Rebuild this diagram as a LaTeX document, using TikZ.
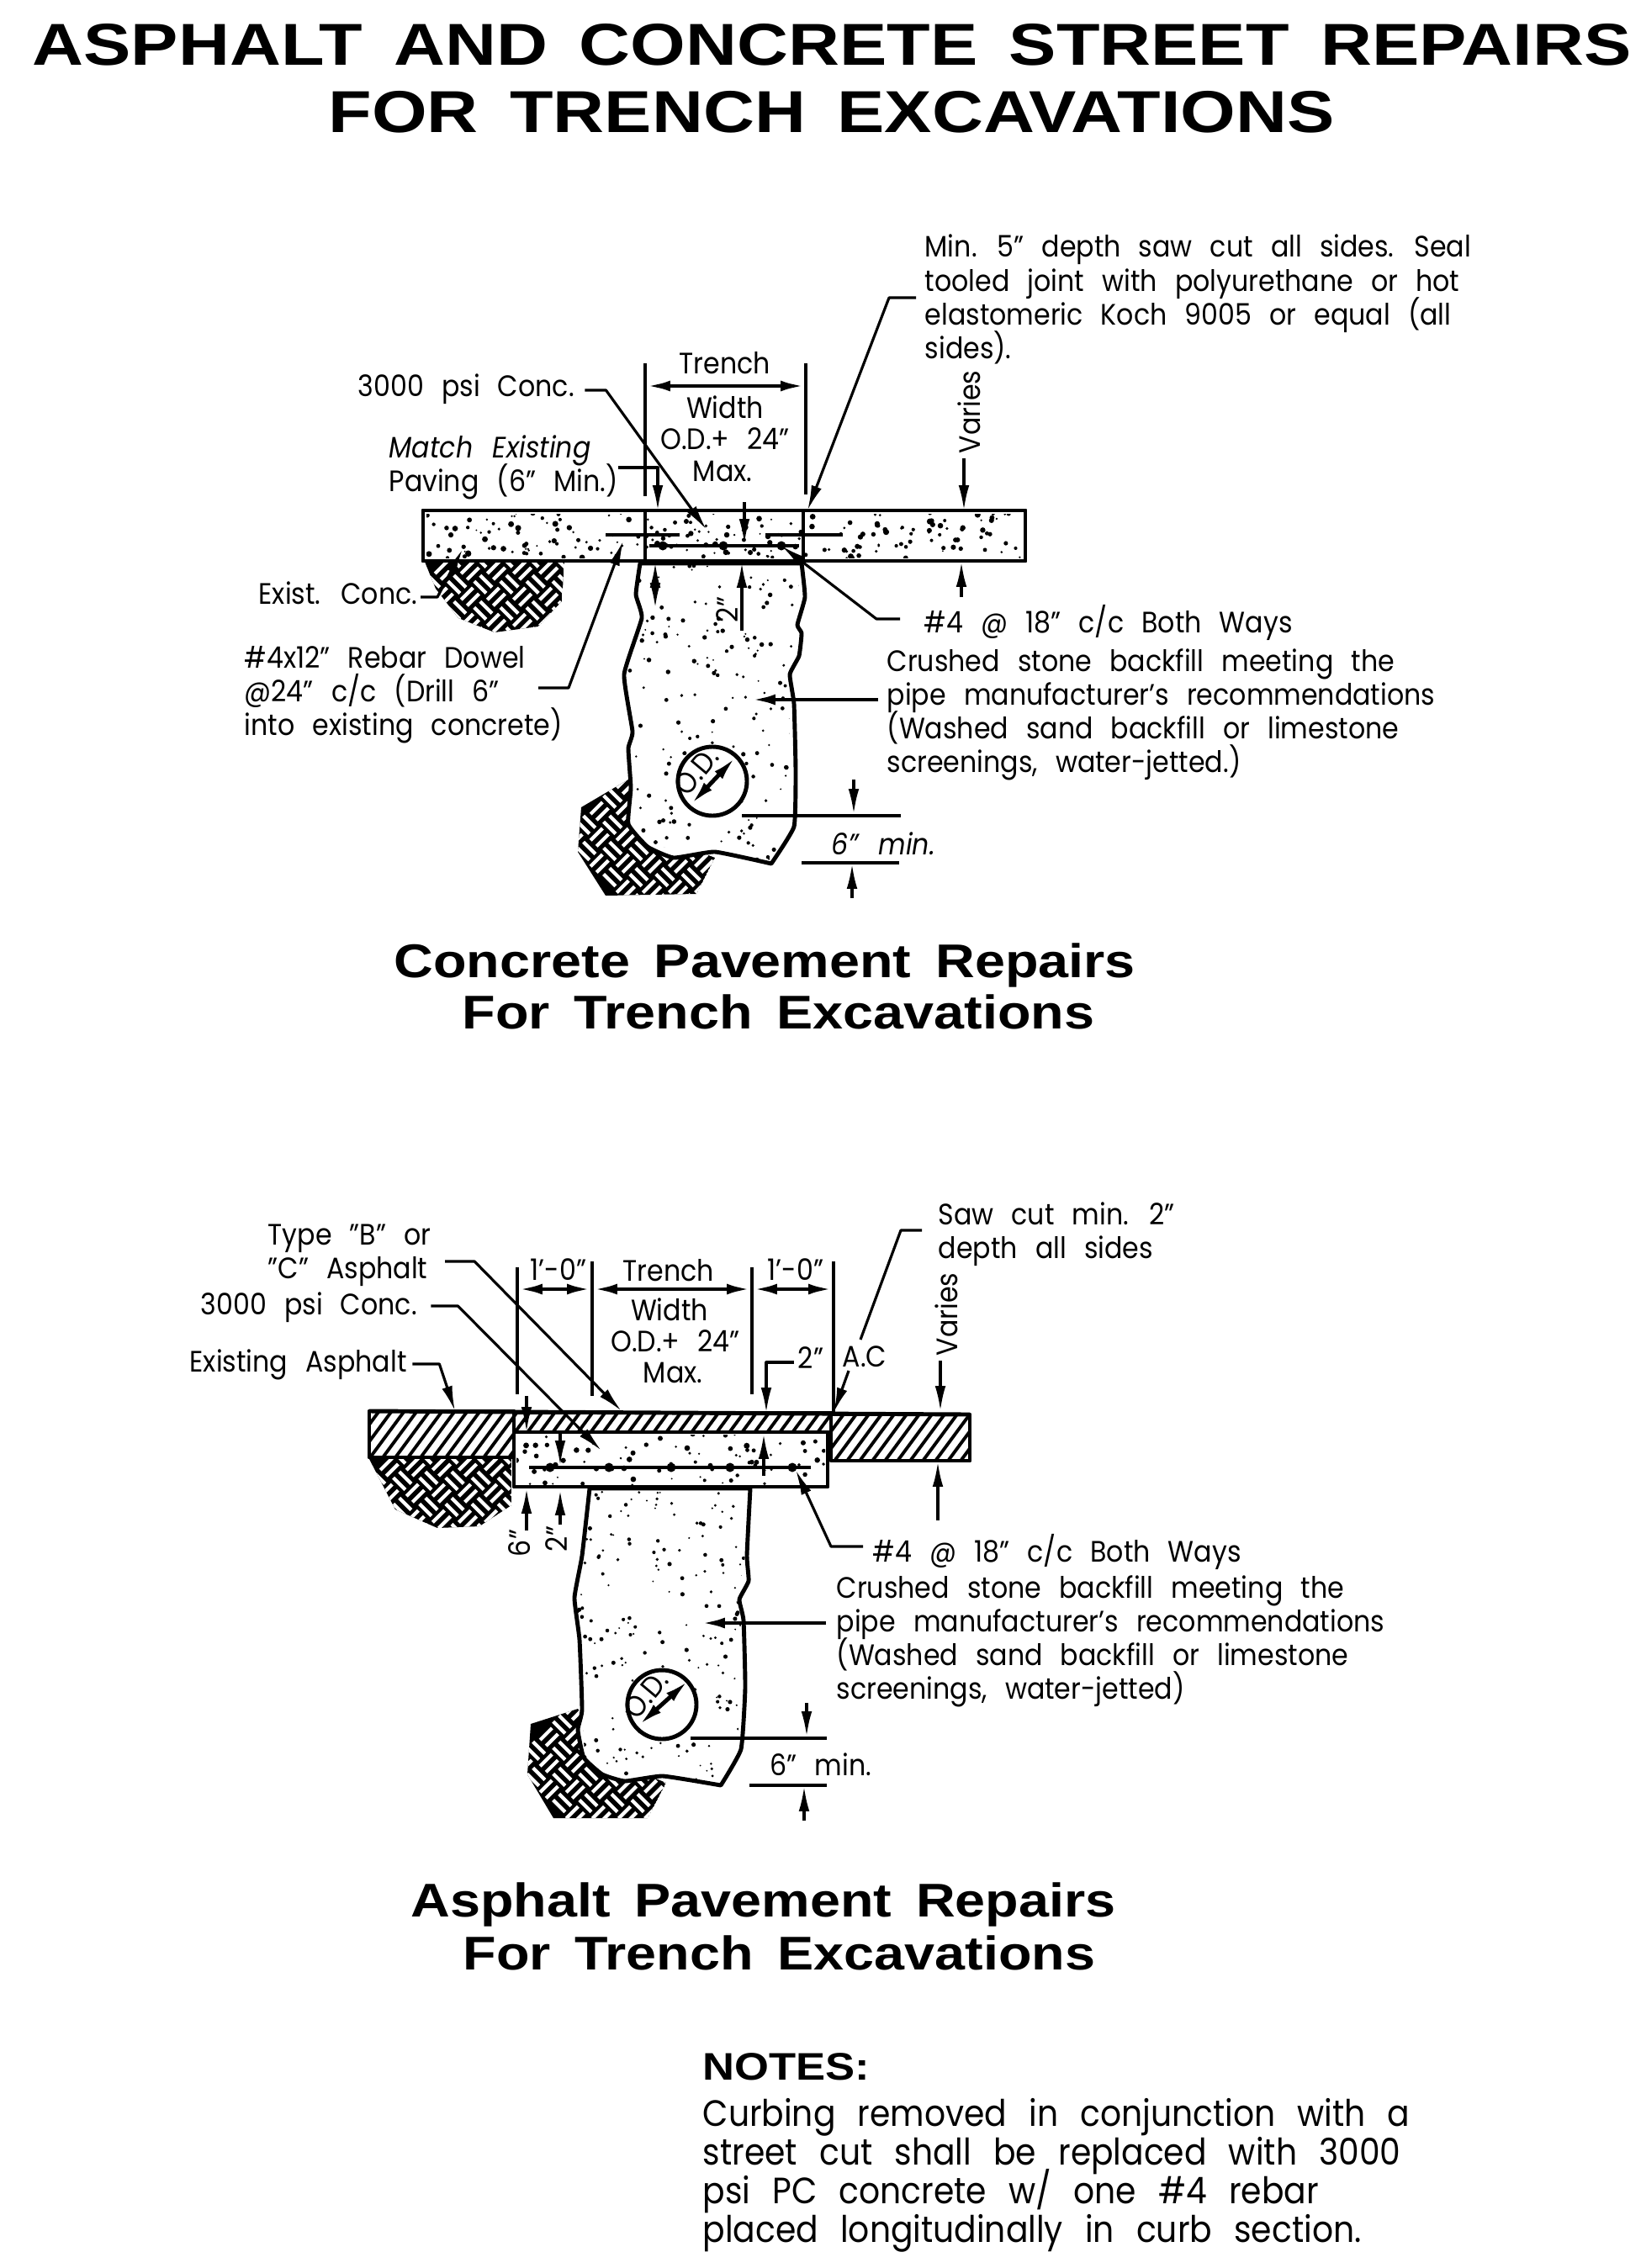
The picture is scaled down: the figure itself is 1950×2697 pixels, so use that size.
\documentclass[tikz,border=0pt]{standalone}
\usepackage{fontspec}
\usetikzlibrary{arrows.meta}
\setmainfont[FakeStretch=.9,WordSpace=2.5]{Poppins}
\newfontfamily\titlefont[FakeStretch=1.2,WordSpace=1.6]{Liberation Sans}
\newfontfamily\subfont[FakeStretch=1.15,WordSpace=1.6]{Liberation Sans}
\lineskiplimit=-6pt

\newcommand{\stipple}[6]{%
  \foreach \k in {1,...,#1}{%
    \pgfmathsetmacro{\sx}{#2+rnd*(#4-#2)}%
    \pgfmathsetmacro{\sy}{#3+rnd*(#5-#3)}%
    \pgfmathsetmacro{\sr}{1+rnd*(#6-1)}%
    \fill (\sx,\sy) circle ({\sr});%
  }}
\newcommand{\weave}[5]{%
  \begin{scope}
  \clip #1;
  \fill #1;
  \foreach \i in {0,...,#4}{\foreach \j in {0,...,#5}{%
    \begin{scope}[shift={(#2,#3)},rotate=45,shift={(\i*22,\j*22)}]
    \pgfmathparse{int(mod(\i+\j,2))}
    \ifnum\pgfmathresult=0
      \draw[white,line width=1.2pt] (-10,-5.5) -- (10,-5.5) (-10,4.5) -- (10,4.5);
    \else
      \draw[white,line width=1.2pt] (-5.5,-10) -- (-5.5,10) (4.5,-10) -- (4.5,10);
    \fi
    \end{scope}}}
  \end{scope}}

\begin{document}
\begin{tikzpicture}[x=0.01cm,y=-0.01cm,line join=round]
\tikzset{
  outl/.style={line width=1.4pt},
  ldr/.style={line width=.9pt},
  tip/.style={-{Latex[length=8.5pt,width=3.6pt]}},
  dbl/.style={{Latex[length=8.5pt,width=3.6pt]}-{Latex[length=8.5pt,width=3.6pt]}},
  lbl/.style={anchor=west,inner sep=0pt,align=left,font=\fontsize{10}{11.4}\selectfont},
  ctr/.style={inner sep=0pt,align=center,font=\fontsize{10}{11.4}\selectfont},
  ttl/.style={inner sep=0pt,align=center,font=\titlefont\bfseries\fontsize{20}{22}\selectfont},
  sub/.style={inner sep=0pt,anchor=west,font=\subfont\bfseries\fontsize{16}{18}\selectfont}
}
\useasboundingbox (0,0) rectangle (1950,2697);
\pgfmathsetseed{4711}

%%%%%% Titulos
\node[ttl,anchor=west] (ttlA) at (38,53) {ASPHALT AND CONCRETE STREET REPAIRS};
\node[ttl,anchor=west] (ttlB) at (390,133) {FOR TRENCH EXCAVATIONS};
\node[sub] (subA) at (468,1148) {Concrete Pavement Repairs};
\node[sub] (subB) at (549,1203) {For Trench Excavations};
\node[sub] (subC) at (488,2265) {Asphalt Pavement Repairs};
\node[sub] (subD) at (550,2322) {For Trench Excavations};
\node[sub,font=\subfont\bfseries\fontsize{13}{16}\selectfont] (notesH) at (835,2458) {NOTES:};
\node[lbl,font=\fontsize{12.4}{13.1}\selectfont] (notesL) at (835,2587) {Curbing removed in conjunction with a\\
street cut shall be replaced with 3000\\
psi PC concrete w/ one \#4 rebar\\
placed longitudinally in curb section.};

%%%%%% Concrete section
%Exist. conc.
\weave{(505,668) -- (671,668) -- (668,715) -- (640,745) -- (588,752) -- (545,735) -- (518,700) -- cycle}{497}{710}{8}{8}
\weave{(747,927) -- (691,960) -- (687,1013) -- (720,1065) -- (828,1063) -- (850,1020) -- (800,1000) -- cycle}{682}{996}{9}{9}

%Trench
\filldraw[outl,fill=white] plot[smooth,tension=.25] coordinates {(761,670) (756,707) (763,735) (742,802) (752,870) (747,890) (750,937) (747,980) (770,1007) (801,1020) (850,1013) (917,1027)} -- plot[smooth,tension=.25] coordinates {(917,1027) (944,983) (946,917) (944,837) (939,802) (950,780) (953,753) (948,743) (957,710) (953,670)} -- cycle;
\begin{scope}
\clip (762,672) -- (757,707) -- (764,735) -- (744,802) -- (754,870) -- (750,980) -- (772,1005) -- (917,1024) -- (942,983) -- (937,802) -- (946,743) -- (951,672) -- cycle;
\stipple{190}{745}{672}{955}{1025}{2.8}
\end{scope}

%Slab
\draw[outl,fill=white] (503,607) rectangle (1219,667);
\begin{scope}
\clip (507,611) rectangle (1215,663);
\stipple{210}{505}{610}{1218}{664}{3.6}
\end{scope}
\draw[outl] (503,607) rectangle (1219,667);
\draw[ldr] (767,607) -- (767,667);
\draw[ldr] (955,607) -- (955,667);

%Rebars
\draw[outl] (720,636) -- (808,636);
\draw[outl] (910,636) -- (1002,636);
\draw[outl] (772,649) -- (950,649);
\foreach \x in {788,860,929}{\fill (\x,649) circle (5.5);}

%Pipe
\draw[outl,fill=white] (847,929) circle (41);
\draw[outl,dbl] (821,957) -- (875,900);
\node[ctr,rotate=50,font=\fontsize{10}{12}\selectfont] (odA) at (828,917) {O.D.};

%Dimensions
\draw[ldr] (767,432) -- (767,590);
\draw[ldr] (958,432) -- (958,588);
\draw[outl,dbl] (767,459) -- (958,459);
\node[ctr] (trA) at (862,432) {Trench};
\node[ctr] (wdA) at (862,484) {Width};
\node[ctr] (odmA) at (862,522) {O.D.+ 24"};
\node[ctr] (mxA) at (859,560) {Max.};
\node[ctr,rotate=90] (varA) at (1152,490) {Varies};
\draw[ldr,tip] (1146,545) -- (1146,607);
\draw[ldr,tip] (1143,710) -- (1143,668);
\draw[ldr,tip] (885,597) -- (885,647);
\draw[ldr,tip] (882,750) -- (882,669);
\draw[ldr,dbl] (779,669) -- (779,723);
\node[ctr,rotate=90] (twoA) at (865,725) {2"};
\draw[outl] (882,970) -- (1071,970);
\draw[outl] (953,1026) -- (1069,1026);
\draw[ldr,tip] (1015,927) -- (1015,968);
\draw[ldr,tip] (1013,1068) -- (1013,1027);
\node[lbl,font=\itshape\fontsize{10}{12}\selectfont] (minA) at (988,1003) {6" min.};

%Labels and leaders
\node[lbl] (minL) at (1099,356) {Min. 5" depth saw cut all sides. Seal\\
tooled joint with polyurethane or hot\\
elastomeric Koch 9005 or equal (all\\
sides).};
\coordinate (minT) at (960,607);
\draw[ldr,tip] (minL.west) ++(-10,-2) -- ++(-32,0) -- (minT);

\node[lbl] (concL) at (425,463) {3000 psi Conc.};
\coordinate (concT) at (840,630);
\draw[ldr,tip] (concL.east) ++(12,1) -- ++(25,0) -- (concT);

\node[lbl] (matchL) at (462,556) {\itshape Match Existing\\ Paving (6" Min.)};
\coordinate (matchT) at (782,607);
\draw[ldr,tip] (matchL.east) -- (matchL.east -| matchT) -- (matchT);

\node[lbl] (existL) at (307,705) {Exist. Conc.};
\coordinate (existT) at (550,653);
\draw[ldr,tip] (existL.east) ++(3,5) -- ++(20,0) -- (existT);

\node[lbl] (dowelL) at (290,826) {\#4x12" Rebar Dowel\\ @24" c/c (Drill 6"\\ into existing concrete)};
\coordinate (dowelS) at (640,818);
\coordinate (dowelT) at (741,643);
\draw[ldr,tip] (dowelS) -- (676,818) -- (dowelT);

\node[lbl] (barL) at (1098,740) {\#4 @ 18" c/c Both Ways};
\coordinate (barT) at (929,649);
\draw[ldr,tip] (barL.west) ++(-28,-4) -- ++(-28,0) -- (barT);

\node[lbl] (crushL) at (1054,850) {Crushed stone backfill meeting the\\
pipe manufacturer's recommendations\\
(Washed sand backfill or limestone\\
screenings, water-jetted.)};
\coordinate (crushT) at (892,832);
\draw[outl,tip] (crushL.west |- crushT) ++(-10,0) -- (crushT);

%%%%%% Asphalt section
%Exist. ground
\weave{(439,1735) -- (608,1735) -- (608,1790) -- (570,1815) -- (520,1817) -- (470,1795) -- cycle}{432}{1776}{8}{8}
\weave{(687,2032) -- (631,2050) -- (627,2110) -- (658,2162) -- (770,2162) -- (792,2120) -- (743,2100) -- cycle}{622}{2097}{8}{8}

%Trench
\filldraw[outl,fill=white] plot[smooth,tension=.25] coordinates {(701,1770) (692,1850) (683,1900) (689,1950) (692,2033) (687,2057) (694,2090) (716,2110) (743,2118) (788,2112) (857,2123)} -- plot[smooth,tension=.25] coordinates {(857,2123) (881,2080) (886,2007) (884,1927) (879,1902) (890,1880) (888,1850) (892,1770)} -- cycle;
\begin{scope}
\clip (703,1770) -- (694,1850) -- (686,1900) -- (695,2090) -- (743,2115) -- (855,2120) -- (878,2080) -- (882,1927) -- (876,1902) -- (886,1850) -- (889,1770) -- cycle;
\stipple{190}{685}{1772}{890}{2120}{2.6}
\end{scope}

%Slab
\draw[outl] (439,1678) rectangle (611,1733);
\draw[outl] (988,1682) rectangle (1153,1737);
\draw[outl] (611,1680) rectangle (988,1703);
\begin{scope}
\clip (439,1678) rectangle (611,1733) (611,1680) rectangle (988,1703) (988,1682) rectangle (1153,1737);
\foreach \x in {405,420,...,1200}{\draw[line width=1.1pt] (\x,1740) -- ++(48,-65);}
\end{scope}
\draw[outl,fill=white] (611,1703) rectangle (984,1768);
\begin{scope}
\clip (614,1706) rectangle (981,1765);
\stipple{75}{612}{1705}{983}{1766}{3.6}
\end{scope}
\draw[outl] (439,1678) -- (1153,1682);

%Rebars
\draw[outl] (629,1745) -- (964,1745);
\foreach \x in {654,724,798,868,942}{\fill (\x,1745) circle (5.5);}

%Pipe
\draw[outl,fill=white] (787,2027) circle (41);
\draw[outl,dbl] (759,2052) -- (819,1998);
\node[ctr,rotate=50,font=\fontsize{10}{12}\selectfont] (odB) at (768,2015) {O.D.};

%Dimensions
\draw[ldr] (615,1507) -- (615,1658);
\draw[ldr] (704,1500) -- (704,1660);
\draw[ldr] (894,1507) -- (894,1658);
\draw[ldr] (991,1500) -- (991,1680);
\draw[outl,dbl] (615,1533) -- (704,1533);
\draw[outl,dbl] (704,1533) -- (894,1533);
\draw[outl,dbl] (894,1533) -- (991,1533);
\node[ctr] (ftA) at (664,1510) {1'-0"};
\node[ctr] (trB) at (795,1511) {Trench};
\node[ctr] (ftB) at (946,1510) {1'-0"};
\node[ctr] (wdB) at (796,1557) {Width};
\node[ctr] (odmB) at (803,1595) {O.D.+ 24"};
\node[ctr] (mxB) at (800,1632) {Max.};
\node[ctr,rotate=90] (varB) at (1125,1563) {Varies};
\draw[ldr,tip] (1118,1618) -- (1118,1678);
\draw[ldr,tip] (1115,1808) -- (1115,1738);
\draw[ldr,tip] (626,1660) -- (626,1703);
\draw[ldr,tip] (626,1820) -- (626,1770);
\draw[ldr,tip] (666,1705) -- (666,1743);
\draw[ldr,tip] (666,1813) -- (666,1772);
\node[ctr,rotate=90] (sixB) at (618,1835) {6"};
\node[ctr,rotate=90] (twoB) at (662,1830) {2"};
\draw[ldr,tip] (908,1755) -- (908,1705);
\draw[outl] (821,2067) -- (983,2067);
\draw[outl] (891,2123) -- (983,2123);
\draw[ldr,tip] (959,2025) -- (959,2065);
\draw[ldr,tip] (956,2165) -- (956,2124);
\node[lbl] (minB) at (915,2098) {6" min.};

%Labels and leaders
\node[lbl] (typeL) at (318,1493) {Type "B" or\\ "C" Asphalt};
\coordinate (typeT) at (739,1678);
\draw[ldr,tip] (typeL.east) ++(16,7) -- ++(35,0) -- (typeT);

\node[lbl] (conc2L) at (238,1555) {3000 psi Conc.};
\coordinate (conc2T) at (715,1725);
\draw[ldr,tip] (conc2L.east) ++(16,-2) -- ++(32,0) -- (conc2T);

\node[lbl] (asphL) at (225,1623) {Existing Asphalt};
\coordinate (asphT) at (541,1678);
\draw[ldr,tip] (asphL.east) ++(6,-1) -- ++(32,0) -- (asphT);

\node[lbl] (sawL) at (1115,1468) {Saw cut min. 2"\\ depth all sides};
\coordinate (sawB) at (1023,1593);
\coordinate (sawC) at (1009,1630);
\coordinate (sawT) at (991,1680);
\draw[ldr] (sawL.west) ++(-19,-5) -- ++(-25,0) -- (sawB);
\draw[ldr,tip] (sawC) -- (sawT);

\node[ctr] (acL) at (1028,1613) {A.C};
\node[ctr] (twoL) at (964,1615) {2"};
\coordinate (twoE) at (911,1620);
\coordinate (twoT) at (911,1680);
\draw[ldr,tip] (twoL.west) ++(-4,5) -- (twoE) -- (twoT);

\node[lbl] (bar2L) at (1037,1845) {\#4 @ 18" c/c Both Ways};
\coordinate (bar2T) at (946,1748);
\draw[ldr,tip] (bar2L.west) ++(-11,-6) -- ++(-38,0) -- (bar2T);

\node[lbl] (crush2L) at (994,1952) {Crushed stone backfill meeting the\\
pipe manufacturer's recommendations\\
(Washed sand backfill or limestone\\
screenings, water-jetted)};
\coordinate (crush2T) at (832,1930);
\draw[outl,tip] (crush2L.west |- crush2T) ++(-12,0) -- (crush2T);
\end{tikzpicture}
\end{document}
